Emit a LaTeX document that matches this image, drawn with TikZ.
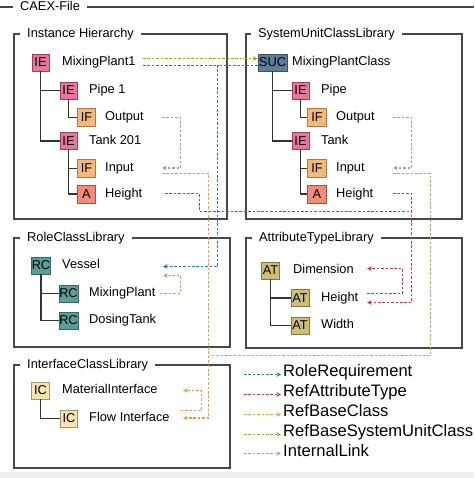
\documentclass[tikz,border=0pt]{standalone}
\usepackage{fontspec}
\setmainfont{Liberation Sans}
\usetikzlibrary{arrows.meta,calc}
\definecolor{ieF}{HTML}{E8769A}\definecolor{ieD}{HTML}{9C3F5E}
\definecolor{sucF}{HTML}{5D7F9B}\definecolor{sucD}{HTML}{3A536B}
\definecolor{ifF}{HTML}{F2B97A}\definecolor{ifD}{HTML}{A87A44}
\definecolor{aF}{HTML}{F28B78}\definecolor{aD}{HTML}{A8503F}
\definecolor{rcF}{HTML}{5B9E95}\definecolor{rcD}{HTML}{356B63}
\definecolor{atF}{HTML}{CDBF76}\definecolor{atD}{HTML}{85773C}
\definecolor{icF}{HTML}{F9E3B3}\definecolor{icD}{HTML}{A89566}
\definecolor{rrC}{HTML}{26838F}\definecolor{ratC}{HTML}{DD3838}
\definecolor{rbcC}{HTML}{EC9A40}\definecolor{rbsC}{HTML}{B0A020}
\definecolor{ilC}{HTML}{A0A0A0}\definecolor{frameC}{HTML}{474747}
\definecolor{bandC}{HTML}{EFEFEF}
\begin{document}
\begin{tikzpicture}[x=1pt,y=-1pt,
  frame/.style={draw=frameC,line width=1.2pt},
  ftitle/.style={fill=white,inner ysep=0pt,inner xsep=7pt,anchor=west,text height=9.2pt,text depth=2.5pt,font=\fontsize{12.8}{14}\selectfont},
  box/.style={draw,line width=0.8pt,minimum height=17pt,minimum width=17pt,inner sep=0.3pt,font=\fontsize{12.8}{14}\selectfont},
  iebox/.style={box,fill=ieF,draw=ieD},
  sucbox/.style={box,fill=sucF,draw=sucD,minimum width=29pt},
  ifbox/.style={box,fill=ifF,draw=ifD,minimum width=18.5pt,minimum height=18pt},
  abox/.style={box,fill=aF,draw=aD,minimum width=18.5pt,minimum height=18pt},
  rcbox/.style={box,fill=rcF,draw=rcD,minimum width=18pt},
  atbox/.style={box,fill=atF,draw=atD,minimum width=18pt},
  icbox/.style={box,fill=icF,draw=icD,minimum width=17.5pt},
  lbl/.style={anchor=west,inner sep=0pt,text height=9.2pt,text depth=2.6pt,font=\fontsize{12.8}{14}\selectfont},
  legtxt/.style={anchor=west,inner sep=0pt,text height=12pt,text depth=3.4pt,font=\fontsize{16.6}{18}\selectfont},
  tree/.style={draw=black!80,line width=1.1pt},
  lnk/.style={line width=1.4pt,dash pattern=on 2.6pt off 1.8pt,-{Stealth[length=4.5pt,width=4.5pt]}},
  rr/.style={color=rrC,draw=rrC},rat/.style={color=ratC,draw=ratC},rbc/.style={color=rbcC,draw=rbcC},
  rbs/.style={color=rbsC,draw=rbsC},il/.style={color=ilC,draw=ilC}]
\useasboundingbox (0,0) rectangle (474,478);
\fill[bandC] (0,472) rectangle (474,478);
% outer frame
\draw[frame] (0,7) -- (474,7);
\node[ftitle] (caex) at (13,7) {CAEX-File};
% frames
\draw[frame] (14,34) rectangle (227,219);
\node[ftitle] (tih) at (20,34) {Instance Hierarchy};
\draw[frame] (246,34) rectangle (462,219);
\node[ftitle] (tsuc) at (251,34) {SystemUnitClassLibrary};
\draw[frame] (14,238) rectangle (230,347);
\node[ftitle] (trc) at (20,238) {RoleClassLibrary};
\draw[frame] (246,238) rectangle (462,348);
\node[ftitle] (tat) at (252,238) {AttributeTypeLibrary};
\draw[frame] (14,365) rectangle (230,468);
\node[ftitle] (tic) at (20,365) {InterfaceClassLibrary};
% Instance Hierarchy
\node[iebox] (ie1) at (40.5,62.5) {IE}; \node[lbl] (lmp1) at (62,62.5) {MixingPlant1};
\node[iebox] (ie2) at (68.5,90.5) {IE}; \node[lbl] (lpipe1) at (89,90.5) {Pipe 1};
\node[ifbox] (if1) at (86.5,117.5) {IF}; \node[lbl] (lout1) at (105,117.5) {Output};
\node[iebox] (ie3) at (68.5,141) {IE}; \node[lbl] (ltank1) at (89,141) {Tank 201};
\node[ifbox] (if2) at (86.5,168.5) {IF}; \node[lbl] (lin1) at (105,168.5) {Input};
\node[abox] (a1) at (86.5,194) {A}; \node[lbl] (lh1) at (105,194) {Height};
% SUC library
\node[sucbox] (suc1) at (272.5,62.5) {SUC}; \node[lbl] (lmpc) at (292,62.5) {MixingPlantClass};
\node[iebox] (ie4) at (300.5,90.5) {IE}; \node[lbl] (lpipe2) at (321,90.5) {Pipe};
\node[ifbox] (if3) at (317,117.5) {IF}; \node[lbl] (lout2) at (336,117.5) {Output};
\node[iebox] (ie5) at (300.5,141) {IE}; \node[lbl] (ltank2) at (321,141) {Tank};
\node[ifbox] (if4) at (317,168.5) {IF}; \node[lbl] (lin2) at (336,168.5) {Input};
\node[abox] (a2) at (317,194) {A}; \node[lbl] (lh2) at (336,194) {Height};
% Role classes
\node[rcbox] (rc1) at (41,265.5) {RC}; \node[lbl] (lves) at (62,265.5) {Vessel};
\node[rcbox] (rc2) at (68.5,293.5) {RC}; \node[lbl] (lmp) at (89,293.5) {MixingPlant};
\node[rcbox] (rc3) at (68.5,320.5) {RC}; \node[lbl] (ldos) at (89,320.5) {DosingTank};
% Attribute types
\node[atbox] (at1) at (270.5,270.5) {AT}; \node[lbl] (ldim) at (293,270.5) {Dimension};
\node[atbox] (at2) at (300,298) {AT}; \node[lbl] (lh3) at (321,298) {Height};
\node[atbox] (at3) at (300,325.5) {AT}; \node[lbl] (lwid) at (321,325.5) {Width};
% Interface classes
\node[icbox] (ic1) at (40.5,390.5) {IC}; \node[lbl] (lmat) at (62,390.5) {MaterialInterface};
\node[icbox] (ic2) at (69,418.5) {IC}; \node[lbl] (lflow) at (89,418.5) {Flow Interface};
% trees
\draw[tree] (ie1.south) |- (ie3.west); \draw[tree] (ie1.south |- ie2.west) -- (ie2.west);
\draw[tree] (ie2.south) |- (if1.west);
\draw[tree] (ie3.south) |- (a1.west); \draw[tree] (ie3.south |- if2.west) -- (if2.west);
\draw[tree] (suc1.south) |- (ie5.west); \draw[tree] (suc1.south |- ie4.west) -- (ie4.west);
\draw[tree] (ie4.south) |- (if3.west);
\draw[tree] (ie5.south) |- (a2.west); \draw[tree] (ie5.south |- if4.west) -- (if4.west);
\draw[tree] (rc1.south) |- (rc3.west); \draw[tree] (rc1.south |- rc2.west) -- (rc2.west);
\draw[tree] (at1.south) |- (at3.west); \draw[tree] (at1.south |- at2.west) -- (at2.west);
\draw[tree] (ic1.south) |- (ic2.west);
% column coordinates
\coordinate (X143) at (143,0); \coordinate (X160) at (160,0); \coordinate (X162) at (162,0);
\coordinate (X163) at (163,0); \coordinate (X165) at (165,0); \coordinate (X180) at (180.5,0);
\coordinate (X183) at (183,0); \coordinate (X199) at (199.5,0); \coordinate (X201) at (201.5,0);
\coordinate (X208) at (208.5,0); \coordinate (X217) at (217.5,0);
\coordinate (X367) at (367,0); \coordinate (X393) at (393,0); \coordinate (X402) at (402.5,0);
\coordinate (X411) at (411.5,0); \coordinate (X430) at (430.5,0);
\coordinate (J1) at (411.5,211.5); \coordinate (J2) at (208.5,355.5);
% RefBaseSystemUnitClass
\draw[lnk,rbs] ($(lmp1 -| X143)+(0,-4)$) -- ($(suc1.west)+(0,-4)$);
% RoleRequirement (MixingPlant1 and MixingPlantClass -> Vessel)
\draw[lnk,rr] ($(lmp1 -| X143)+(0,3)$) -- ($(lmp1 -| X217)+(0,3)$)
  ($(suc1.west)+(0,3)$) -- ($(lmp1 -| X217)+(0,3)$) |- ($(lves -| X163)+(0,1)$);
% InternalLink
\draw[lnk,il] (lout1 -| X162) -- (lout1 -| X180) |- ($(lin1 -| X162)+(0,-0.5)$);
\draw[lnk,il] (lout2 -| X393) -- (lout2 -| X411) |- ($(lin2 -| X393)+(0,-0.5)$);
% RefBaseClass (both Inputs -> Flow Interface)
\draw[lnk,rbc] ($(lin2 -| X393)+(0,5)$) -- ($(lin2 -| X430)+(0,5)$) |- (J2)
  ($(lin1 -| X162)+(0,5)$) -- ($(lin1 -| X208)+(0,5)$) |- ($(lflow -| X183)+(0,-0.5)$);
\draw[lnk,rbc] (lmp -| X160) -- (lmp -| X180) |- ($(lves -| X163)+(0,10)$);
\draw[lnk,rbc] ($(lflow -| X180)+(0,-8)$) -- ($(lflow -| X201)+(0,-8)$) |- (lmat -| X183);
% RefAttributeType (both Heights -> AT Height; AT Height -> Dimension)
\draw[lnk,rat] ($(lh1 -| X165)+(0,-0.5)$) -- ($(lh1 -| X199)+(0,-0.5)$) |- (J1)
  ($(lh2 -| X393)+(0,-0.5)$) -- ($(lh2 -| X411)+(0,-0.5)$) |- ($(lh3 -| X367)+(0,4.5)$);
\draw[lnk,rat] ($(lh3 -| X367)+(0,-4.5)$) -- ($(lh3 -| X402)+(0,-4.5)$) |- ($(ldim -| X367)+(0,-2)$);
% legend
\node[legtxt] (lg1) at (283,372.5) {RoleRequirement};
\node[legtxt] (lg2) at (283,392.5) {RefAttributeType};
\node[legtxt] (lg3) at (283,412.5) {RefBaseClass};
\node[legtxt] (lg4) at (283,432.5) {RefBaseSystemUnitClass};
\node[legtxt] (lg5) at (283,452) {InternalLink};
\coordinate (L1) at (244,374.5); \coordinate (L2) at (244,394.5); \coordinate (L3) at (244,414.5);
\coordinate (L4) at (244,434.5); \coordinate (L5) at (244,453.5);
\draw[lnk,rr] (L1) -- ($(L1 -| lg1.west)+(-2,0)$);
\draw[lnk,rat] (L2) -- ($(L2 -| lg2.west)+(-2,0)$);
\draw[lnk,rbc] (L3) -- ($(L3 -| lg3.west)+(-2,0)$);
\draw[lnk,rbs] (L4) -- ($(L4 -| lg4.west)+(-2,0)$);
\draw[lnk,il] (L5) -- ($(L5 -| lg5.west)+(-2,0)$);
\end{tikzpicture}
\end{document}
